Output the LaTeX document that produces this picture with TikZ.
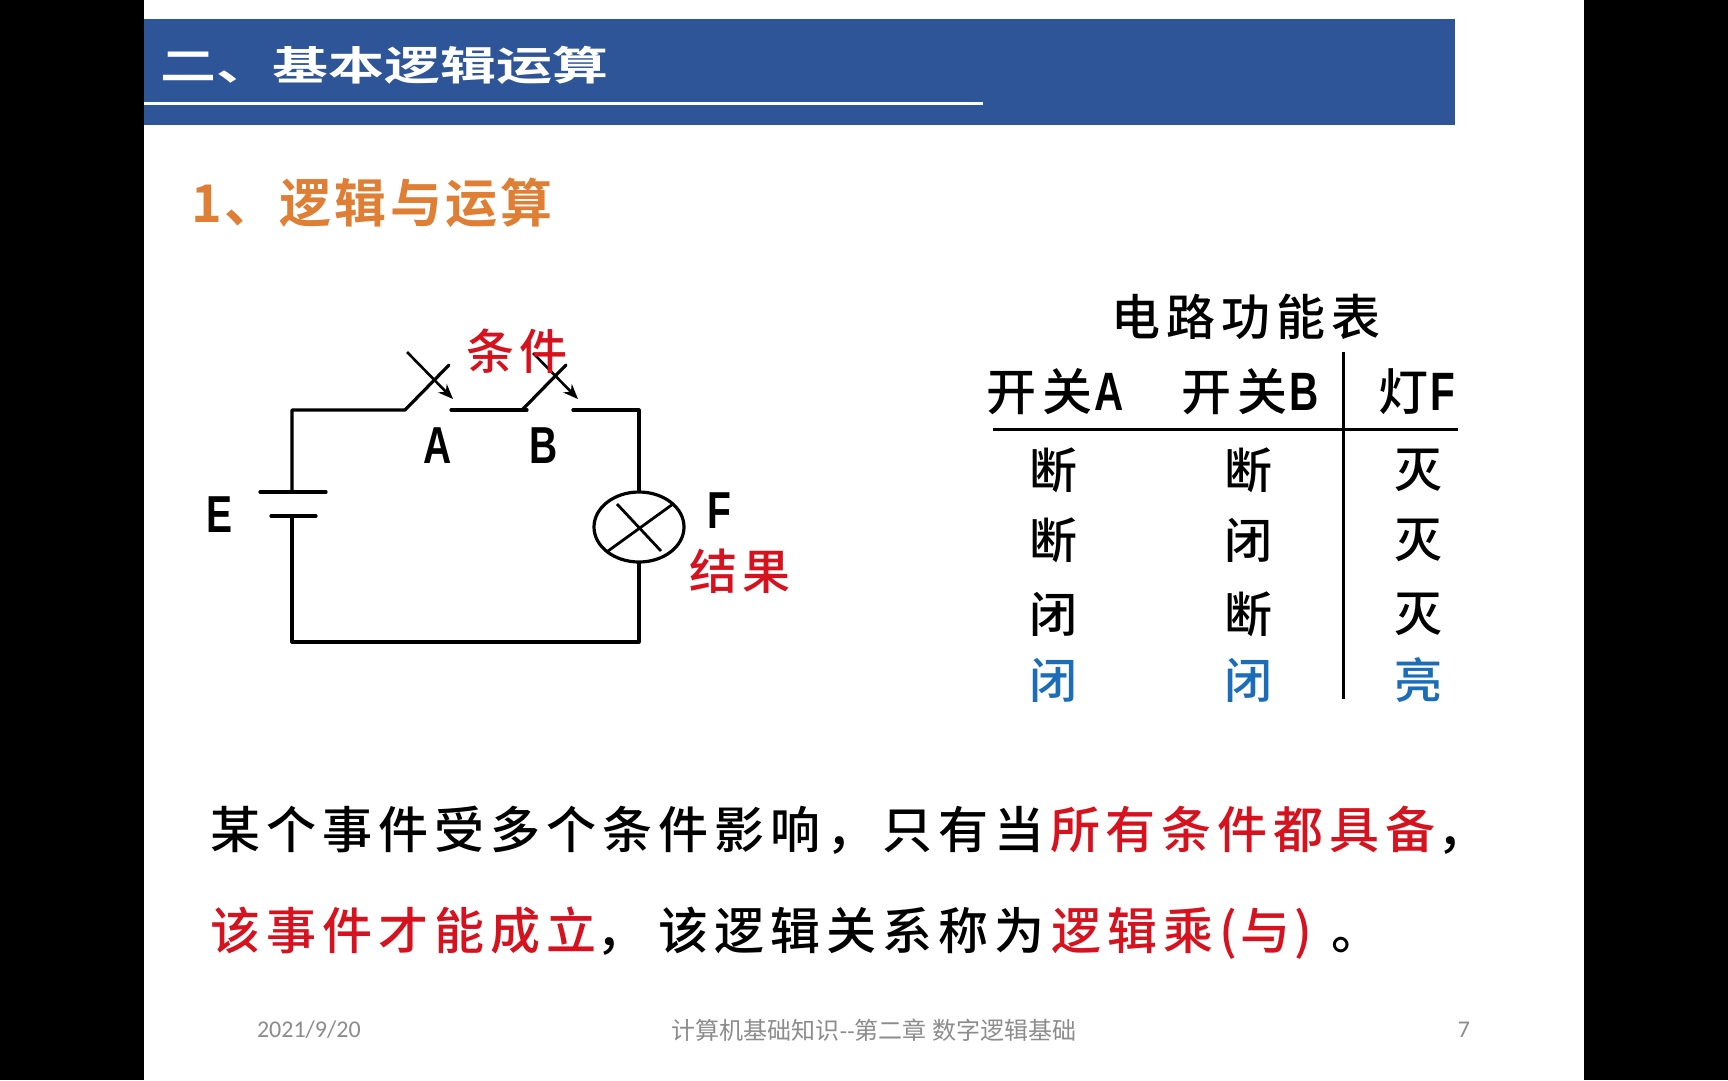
\documentclass[tikz,border=0pt]{standalone}
\usepackage{fontspec}
\usetikzlibrary{arrows.meta,shapes.geometric}
\setmainfont{Noto Sans CJK SC Medium}
\newfontfamily\spaced[LetterSpace=12]{Noto Sans CJK SC Medium}
\newfontfamily\titlef[FakeStretch=1.4]{Noto Sans CJK SC Bold}
\newfontfamily\subf[LetterSpace=6]{Noto Sans CJK SC Bold}
\newfontfamily\narrowf[FakeStretch=.75]{Liberation Sans Bold}
\newfontfamily\footf{Carlito}
\newfontfamily\plain{Noto Sans CJK SC}
\definecolor{barblue}{HTML}{2E5597}
\definecolor{accent}{HTML}{DF7F35}
\definecolor{textred}{HTML}{D5121E}
\definecolor{tableblue}{HTML}{1C6DB8}
\definecolor{footgray}{HTML}{8C8C8C}
\newcommand{\lat}[1]{{\narrowf\fontsize{54}{56}\selectfont #1}}
\tikzset{
  x=1pt,y=-1pt,
  wire/.style={line width=3.2pt,line cap=round,line join=round,black},
  thinwire/.style={line width=2.8pt,black},
  swarrow/.style={line width=2.6pt,black,-{Stealth[length=15pt,width=12pt]}},
  txt/.style={inner sep=0pt,outer sep=0pt,align=center},
  letter/.style={txt,font=\narrowf\fontsize{52}{60}\selectfont},
  redlabel/.style={txt,text=textred,font=\spaced\fontsize{48}{56}\selectfont},
  cell/.style={txt,font=\spaced\fontsize{48}{56}\selectfont},
  headcell/.style={txt,font=\spaced\fontsize{50}{56}\selectfont},
  bluecell/.style={cell,text=tableblue},
  body/.style={txt,anchor=west,font=\spaced\fontsize{50}{60}\selectfont},
  foot/.style={txt,text=footgray,font=\footf\fontsize{24}{28}\selectfont}
}
\begin{document}
\begin{tikzpicture}
\useasboundingbox (0,0) rectangle (1728,1080);
\fill[black] (0,0) rectangle (144,1080);
\fill[black] (1584,0) rectangle (1728,1080);
\fill[white] (144,0) rectangle (1584,1080);
\fill[barblue] (144,19) rectangle (1455,125);
\draw[white,line width=3pt] (144,103) -- (983,103);

\node[txt,anchor=west,text=white,font=\titlef\fontsize{40}{48}\selectfont] (title) at (160,65) {二、基本逻辑运算};
\node[txt,anchor=west,text=accent,font=\subf\fontsize{52}{60}\selectfont] (subtitle) at (191,203) {1、逻辑与运算};

% circuit
\coordinate (tl) at (292,410);
\coordinate (bl) at (292,642);
\coordinate (tr) at (639,410);
\coordinate (br) at (639,642);
\coordinate (a1) at (405,410);
\coordinate (a2) at (449,365);
\coordinate (a3) at (451,410);
\coordinate (b1) at (527,410);
\coordinate (b2) at (566,365);
\coordinate (b3) at (573,410);
\coordinate (b0) at (522,410);
\coordinate (ap) at (407,352);
\coordinate (aq) at (453,399);
\coordinate (bp) at (533,353);
\coordinate (bq) at (578,399);
\coordinate (batL1) at (260,492);
\coordinate (batR1) at (326,492);
\coordinate (batL2) at (271,516);
\coordinate (batR2) at (316,516);
\coordinate (batA) at (292,492);
\coordinate (batB) at (292,516);
\node[draw,wire,ellipse,minimum width=90pt,minimum height=70pt,inner sep=0pt] (lamp) at (639,527) {};
\draw[wire] (batA) -- (tl) -- (a1) -- (a2);
\draw[wire] (a3) -- (b1);
\draw[wire] (b0) -- (b2);
\draw[wire] (b3) -- (tr) -- (lamp.north);
\draw[wire] (lamp.south) -- (br) -- (bl) -- (batB);
\draw[wire] (batL1) -- (batR1);
\draw[wire] (batL2) -- (batR2);
\draw[swarrow] (ap) -- (aq);
\draw[swarrow] (bp) -- (bq);
\coordinate (c1) at (608,551);
\coordinate (c2) at (673,504);
\coordinate (c3) at (617,504);
\coordinate (c4) at (661,551);
\draw[thinwire] (c1) -- (c2);
\draw[thinwire] (c3) -- (c4);

\node[letter] (lA) at (438,446) {A};
\node[letter] (lB) at (544,446) {B};
\node[letter] (lE) at (220,515) {E};
\node[letter] (lF) at (719,511) {F};
\node[redlabel] (cond) at (517,351) {条件};
\node[redlabel] (res) at (740,571) {结果};

% table
\node[cell,font=\spaced\fontsize{49}{60}\selectfont] (ttitle) at (1246,317) {电路功能表};
\node[headcell] (hA) at (1055,392) {开关\kern2pt\lat{A}};
\node[headcell] (hB) at (1250,392) {开关\kern2pt\lat{B}};
\node[headcell] (hF) at (1417,392) {灯\kern2pt\lat{F}};
\coordinate (hl) at (993,429);
\coordinate (hr) at (1458,429);
\coordinate (vt) at (1343,352);
\coordinate (vb) at (1343,699);
\draw[line width=3pt] (hl) -- (hr);
\draw[line width=3pt] (vt) -- (vb);
\node[cell] (r1a) at (1053,470) {断};
\node[cell] (r1b) at (1248,470) {断};
\node[cell] (r1c) at (1418,470) {灭};
\node[cell] (r2a) at (1053,540) {断};
\node[cell] (r2b) at (1248,540) {闭};
\node[cell] (r2c) at (1418,540) {灭};
\node[cell] (r3a) at (1053,614) {闭};
\node[cell] (r3b) at (1248,614) {断};
\node[cell] (r3c) at (1418,614) {灭};
\node[bluecell] (r4a) at (1053,680) {闭};
\node[bluecell] (r4b) at (1248,680) {闭};
\node[bluecell] (r4c) at (1418,680) {亮};

% body
\node[body] (line1) at (210,830) {某个事件受多个条件影响，只有当\kern6pt{\color{textred}所有条件都具备}\kern1pt，};
\node[body] (line2) at (210,933) {{\color{textred}该事件才能成立}，\kern13pt该逻辑关系称为\kern6pt{\color{textred}逻辑乘\kern6pt(\kern4pt 与\kern4pt)}\kern19pt。};

% footer
\node[foot,anchor=west] (date) at (257,1030) {2021/9/20};
\node[foot,anchor=center] (chapter) at (874,1030) {{\plain 计算机基础知识}-{}-{\plain 第二章} {\plain 数字逻辑基础}};
\node[foot,anchor=center] (page) at (1464,1030) {7};
\end{tikzpicture}
\end{document}
